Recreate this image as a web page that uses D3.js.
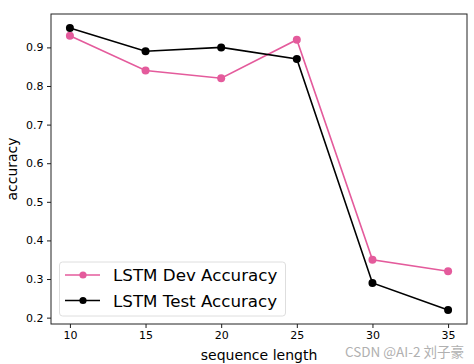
<!DOCTYPE html>
<html><head><meta charset="utf-8">
<script src="https://cdn.jsdelivr.net/npm/d3@7"></script>
<style>body{margin:0;background:#fff}svg{display:block}text{font-family:"DejaVu Sans",sans-serif}</style>
</head><body>
<script>
const seqLen = [10, 15, 20, 25, 30, 35];
const devAcc = [0.93, 0.84, 0.82, 0.92, 0.35, 0.32];
const testAcc = [0.95, 0.89, 0.90, 0.87, 0.29, 0.22];
const xTicks = [10, 15, 20, 25, 30, 35];
const yTicks = [0.2, 0.3, 0.4, 0.5, 0.6, 0.7, 0.8, 0.9];
const seriesNames = ["LSTM Dev Accuracy", "LSTM Test Accuracy"];
const seriesColors = ["#e45b9c", "#000000"];

const W = 474, H = 364;
const m = {l: 51, r: 467, t: 14, b: 324};
const svg = d3.select("body").append("svg").attr("width", W).attr("height", H);

const x = d3.scaleLinear().domain([8.75, 36.25]).range([m.l, m.r]);
const y = d3.scaleLinear().domain([0.1835, 0.9865]).range([m.b, m.t]);

const xa = svg.append("g").attr("transform", `translate(0,${m.b})`)
  .call(d3.axisBottom(x).tickValues(xTicks).tickSize(4).tickPadding(3.5).tickFormat(d3.format("d")));
const ya = svg.append("g").attr("transform", `translate(${m.l},0)`)
  .call(d3.axisLeft(y).tickValues(yTicks).tickSize(4).tickPadding(3.5).tickFormat(d3.format(".1f")));
[xa, ya].forEach(a => {
  a.select(".domain").remove();
  a.selectAll("text").attr("font-size", 11).attr("fill", "#000").style("font-family", '"DejaVu Sans",sans-serif');
  a.selectAll("line").attr("stroke", "#000").attr("stroke-width", 0.9);
});

svg.append("rect").attr("x", m.l).attr("y", m.t).attr("width", m.r - m.l).attr("height", m.b - m.t)
  .attr("fill", "none").attr("stroke", "#222").attr("stroke-width", 1);

const series = [devAcc, testAcc];
const line = d3.line().x((d, i) => x(seqLen[i])).y(d => y(d));
series.forEach((s, k) => {
  svg.append("path").datum(s).attr("d", line).attr("fill", "none")
    .attr("stroke", seriesColors[k]).attr("stroke-width", 1.6);
  svg.selectAll(null).data(s).enter().append("circle")
    .attr("cx", (d, i) => x(seqLen[i])).attr("cy", d => y(d)).attr("r", 4)
    .attr("fill", seriesColors[k]);
});

// legend
const lg = svg.append("g");
lg.append("rect").attr("x", 59.5).attr("y", 262).attr("width", 226).attr("height", 54).attr("rx", 3)
  .attr("fill", "#fff").attr("fill-opacity", 0.8).attr("stroke", "#d6d6d6").attr("stroke-width", 0.8);
seriesNames.forEach((n, k) => {
  const yy = 275 + k * 25.5;
  lg.append("line").attr("x1", 65).attr("x2", 100).attr("y1", yy).attr("y2", yy)
    .attr("stroke", seriesColors[k]).attr("stroke-width", 1.6);
  lg.append("circle").attr("cx", 83).attr("cy", yy).attr("r", 3.6).attr("fill", seriesColors[k]);
  lg.append("text").attr("x", 113).attr("y", yy).attr("dy", "0.36em").attr("font-size", 16.7)
    .attr("fill", "#000").text(n);
});

svg.append("text").attr("x", (m.l + m.r) / 2).attr("y", 360).attr("text-anchor", "middle")
  .attr("font-size", 14).attr("fill", "#000").text("sequence length");
svg.append("text").attr("transform", `translate(17,${(m.t + m.b) / 2}) rotate(-90)`)
  .attr("text-anchor", "middle").attr("font-size", 14).attr("fill", "#000").text("accuracy");

svg.append("text").attr("x", 464).attr("y", 357).attr("text-anchor", "end")
  .attr("font-size", 13.5).attr("fill", "#b0b0b0")
  .style("font-family", '"Noto Sans CJK SC","DejaVu Sans",sans-serif').text("CSDN @AI-2  刘子豪");
</script>
</body></html>
